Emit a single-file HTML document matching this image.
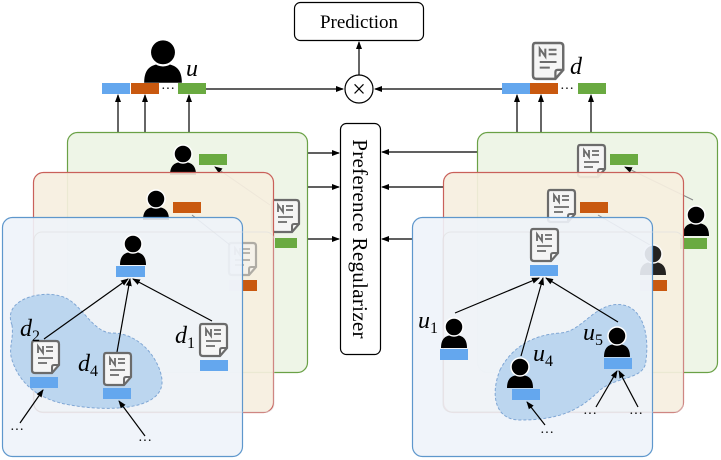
<!DOCTYPE html>
<html><head><meta charset="utf-8"><style>
html,body{margin:0;padding:0;background:#fff;}
svg{display:block;}
text{font-family:"Liberation Serif",serif;}
</style></head><body>
<svg width="721" height="460" viewBox="0 0 721 460" xmlns="http://www.w3.org/2000/svg">
<defs>
<marker id="ah" markerWidth="8" markerHeight="8" refX="7" refY="4" orient="auto" markerUnits="userSpaceOnUse">
<path d="M0,1 L8,4 L0,7 Z" fill="#000"/></marker>
<g id="user">
<path d="M-13,15 C-13,5 -8,2 0,2 C8,2 13,5 13,15 Z" fill="#000"/>
<circle cx="0" cy="-6" r="9" fill="#000" stroke="#fff" stroke-width="1.5"/>
</g>
<g id="doc">
<path d="M2,0 H24 Q27,0 27,3 V24 L20,32 H3 Q0,32 0,29 V3 Q0,0 2,0 Z" fill="#f5f5f5" stroke="#6b6b6b" stroke-width="2.2"/>
<path d="M20,32 V26 Q20,24 22,24 H27" fill="none" stroke="#6b6b6b" stroke-width="2"/>
<path d="M6,12 V5 L11,12 V5" fill="none" stroke="#6b6b6b" stroke-width="1.8"/>
<path d="M14,6 H21 M14,10 H21 M6,17 H21 M6,22 H15" stroke="#6b6b6b" stroke-width="1.8"/>
</g>
</defs>

<!-- top -->
<rect x="294.5" y="2.5" width="129" height="38" rx="6" fill="#fff" stroke="#000" stroke-width="1.2"/>
<text x="359" y="28" font-size="19" text-anchor="middle">Prediction</text>
<circle cx="359" cy="89" r="14" fill="#fff" stroke="#000" stroke-width="1.2"/>
<text x="359" y="97" font-size="24" text-anchor="middle">×</text>
<line x1="359" y1="75" x2="359" y2="42" stroke="#000" stroke-width="1.2" marker-end="url(#ah)"/>

<use href="#user" transform="translate(163,61) scale(1.45)"/>
<text x="186" y="76" font-size="24" font-style="italic">u</text>
<rect x="102" y="83" width="28" height="11" fill="#64a7ee"/>
<rect x="131" y="83" width="28" height="11" fill="#c9590f"/>
<text x="161" y="93" font-size="14">···</text>
<rect x="178" y="83" width="28" height="11" fill="#6aaa41"/>
<line x1="206" y1="89" x2="343" y2="89" stroke="#000" stroke-width="1.2" marker-end="url(#ah)"/>

<use href="#doc" transform="translate(533,43) scale(1.12)"/>
<text x="570" y="74" font-size="24" font-style="italic">d</text>
<rect x="502" y="83" width="28" height="11" fill="#64a7ee"/>
<rect x="530" y="83" width="28" height="11" fill="#c9590f"/>
<text x="560" y="93" font-size="14">···</text>
<rect x="578" y="83" width="28" height="11" fill="#6aaa41"/>
<line x1="502" y1="89" x2="375" y2="89" stroke="#000" stroke-width="1.2" marker-end="url(#ah)"/>

<!-- regularizer -->
<rect x="340.5" y="123.5" width="40" height="231" rx="6" fill="#fff" stroke="#000" stroke-width="1.2"/>
<text transform="translate(353,239) rotate(90)" font-size="21" text-anchor="middle" letter-spacing="0.3">Preference Regularizer</text>

<!-- left arrows -->
<line x1="307" y1="153" x2="339" y2="153" stroke="#000" stroke-width="1.2" marker-end="url(#ah)"/>
<line x1="273" y1="187" x2="339" y2="187" stroke="#000" stroke-width="1.2" marker-end="url(#ah)"/>
<line x1="242" y1="239" x2="339" y2="239" stroke="#000" stroke-width="1.2" marker-end="url(#ah)"/>
<line x1="477" y1="152" x2="382" y2="152" stroke="#000" stroke-width="1.2" marker-end="url(#ah)"/>
<line x1="443" y1="187" x2="382" y2="187" stroke="#000" stroke-width="1.2" marker-end="url(#ah)"/>
<line x1="412" y1="239" x2="382" y2="239" stroke="#000" stroke-width="1.2" marker-end="url(#ah)"/>

<!-- up arrows -->
<line x1="118" y1="217" x2="118" y2="95" stroke="#000" stroke-width="1.2" marker-end="url(#ah)"/>
<line x1="145" y1="172" x2="145" y2="95" stroke="#000" stroke-width="1.2" marker-end="url(#ah)"/>
<line x1="189" y1="132" x2="189" y2="95" stroke="#000" stroke-width="1.2" marker-end="url(#ah)"/>
<line x1="517" y1="217" x2="517" y2="95" stroke="#000" stroke-width="1.2" marker-end="url(#ah)"/>
<line x1="541" y1="173" x2="541" y2="95" stroke="#000" stroke-width="1.2" marker-end="url(#ah)"/>
<line x1="591" y1="133" x2="591" y2="95" stroke="#000" stroke-width="1.2" marker-end="url(#ah)"/>

<!-- LEFT PANELS -->
<rect x="67.5" y="132.5" width="240" height="240" rx="10" fill="#eef5e7" stroke="#6aa146" stroke-width="1.2"/>
<use href="#user" x="183" y="160"/>
<rect x="199" y="154" width="28" height="11" fill="#6aaa41"/>
<line x1="270" y1="205" x2="215" y2="167" stroke="#888" stroke-width="1" marker-end="url(#ah)"/>
<use href="#doc" x="272" y="200"/>
<rect x="275" y="238" width="22" height="10" fill="#6aaa41"/>

<rect x="33.5" y="172.5" width="240" height="240" rx="10" fill="#f6efdf" fill-opacity="0.92" stroke="#c9605a" stroke-width="1.2"/>
<use href="#user" x="156" y="205"/>
<rect x="173" y="202" width="28" height="11" fill="#c9590f"/>
<line x1="230" y1="245" x2="192" y2="215" stroke="#888" stroke-width="1"/>
<use href="#doc" x="229" y="243" opacity="0.5"/>
<rect x="229" y="280" width="28" height="11" fill="#c9590f"/>
<rect x="229" y="280" width="13" height="11" fill="#e8e2dc"/>

<rect x="2.5" y="217.5" width="240" height="239" rx="10" fill="#eef3f9" fill-opacity="0.9" stroke="#5e97cc" stroke-width="1.2"/>
<rect x="34" y="232" width="240" height="180" rx="8" fill="none" stroke="#ddd" stroke-width="1" opacity="0.6"/>
<path d="M12,325 C2,300 40,290 60,296 C80,300 90,330 110,333 C140,332 160,360 162,380 C164,410 110,412 70,405 C40,400 20,385 12,360 C8,348 14,340 12,325 Z" fill="#bcd6ef" stroke="#7fa6d4" stroke-width="1" stroke-dasharray="3,2"/>
<use href="#user" x="133" y="250"/>
<rect x="116" y="266" width="29" height="11" fill="#64a7ee"/>
<line x1="44" y1="339" x2="128" y2="279" stroke="#000" stroke-width="1.2" marker-end="url(#ah)"/>
<line x1="117" y1="352" x2="130" y2="279" stroke="#000" stroke-width="1.2" marker-end="url(#ah)"/>
<line x1="212" y1="321" x2="133" y2="279" stroke="#000" stroke-width="1.2" marker-end="url(#ah)"/>
<use href="#doc" x="32" y="341"/>
<rect x="30" y="377" width="28" height="11" fill="#64a7ee"/>
<use href="#doc" x="104" y="353"/>
<rect x="103" y="388" width="28" height="11" fill="#64a7ee"/>
<use href="#doc" x="200" y="324"/>
<rect x="200" y="360" width="28" height="11" fill="#64a7ee"/>
<text x="20" y="336" font-size="24" font-style="italic">d<tspan font-size="16" font-style="normal" dy="5">2</tspan></text>
<text x="78" y="371" font-size="24" font-style="italic">d<tspan font-size="16" font-style="normal" dy="5">4</tspan></text>
<text x="175" y="343" font-size="24" font-style="italic">d<tspan font-size="16" font-style="normal" dy="5">1</tspan></text>
<line x1="20" y1="423" x2="43" y2="390" stroke="#000" stroke-width="1.2" marker-end="url(#ah)"/>
<line x1="145" y1="436" x2="119" y2="401" stroke="#000" stroke-width="1.2" marker-end="url(#ah)"/>
<text x="10" y="434" font-size="14">···</text>
<text x="138" y="445" font-size="14">···</text>

<!-- RIGHT PANELS -->
<rect x="477.5" y="132.5" width="240" height="240" rx="10" fill="#eef5e7" stroke="#6aa146" stroke-width="1.2"/>
<use href="#doc" x="578" y="145"/>
<rect x="610" y="154" width="28" height="11" fill="#6aaa41"/>
<line x1="693" y1="200" x2="625" y2="167" stroke="#888" stroke-width="1" marker-end="url(#ah)"/>
<use href="#user" x="696" y="221"/>
<rect x="680" y="238" width="27" height="11" fill="#6aaa41"/>

<rect x="443.5" y="172.5" width="240" height="240" rx="10" fill="#f6efdf" fill-opacity="0.92" stroke="#c9605a" stroke-width="1.2"/>
<use href="#doc" x="548" y="190"/>
<rect x="580" y="202" width="28" height="11" fill="#c9590f"/>
<line x1="650" y1="245" x2="598" y2="215" stroke="#888" stroke-width="1"/>
<use href="#user" x="653" y="260" opacity="0.85"/>
<rect x="640" y="280" width="27" height="11" fill="#c9590f"/>
<rect x="640" y="280" width="13" height="11" fill="#e8e2dc"/>

<rect x="412.5" y="217.5" width="240" height="239" rx="10" fill="#eef3f9" fill-opacity="0.9" stroke="#5e97cc" stroke-width="1.2"/>
<rect x="443" y="232" width="240" height="180" rx="8" fill="none" stroke="#ddd" stroke-width="1" opacity="0.6"/>
<path d="M500,370 C510,350 530,335 560,333 C580,332 590,310 612,305 C640,300 650,330 646,360 C645,380 620,375 600,390 C580,410 560,420 520,420 C495,420 490,395 500,370 Z" fill="#bcd6ef" stroke="#7fa6d4" stroke-width="1" stroke-dasharray="3,2"/>
<use href="#doc" x="531" y="229"/>
<rect x="530" y="265" width="28" height="11" fill="#64a7ee"/>
<line x1="455" y1="313" x2="539" y2="278" stroke="#000" stroke-width="1.2" marker-end="url(#ah)"/>
<line x1="521" y1="356" x2="543" y2="278" stroke="#000" stroke-width="1.2" marker-end="url(#ah)"/>
<line x1="618" y1="322" x2="546" y2="278" stroke="#000" stroke-width="1.2" marker-end="url(#ah)"/>
<use href="#user" x="454" y="333"/>
<rect x="440" y="349" width="28" height="11" fill="#64a7ee"/>
<use href="#user" x="520" y="373"/>
<rect x="512" y="389" width="28" height="11" fill="#64a7ee"/>
<use href="#user" x="617" y="342"/>
<rect x="604" y="358" width="28" height="11" fill="#64a7ee"/>
<text x="418" y="328" font-size="24" font-style="italic">u<tspan font-size="16" font-style="normal" dy="5">1</tspan></text>
<text x="533" y="361" font-size="24" font-style="italic">u<tspan font-size="16" font-style="normal" dy="5">4</tspan></text>
<text x="583" y="340" font-size="24" font-style="italic">u<tspan font-size="16" font-style="normal" dy="5">5</tspan></text>
<line x1="545" y1="425" x2="527" y2="402" stroke="#000" stroke-width="1.2" marker-end="url(#ah)"/>
<line x1="596" y1="407" x2="617" y2="371" stroke="#000" stroke-width="1.2" marker-end="url(#ah)"/>
<line x1="638" y1="407" x2="619" y2="371" stroke="#000" stroke-width="1.2" marker-end="url(#ah)"/>
<text x="540" y="437" font-size="14">···</text>
<text x="583" y="418" font-size="14">···</text>
<text x="629" y="418" font-size="14">···</text>
</svg>
</body></html>
